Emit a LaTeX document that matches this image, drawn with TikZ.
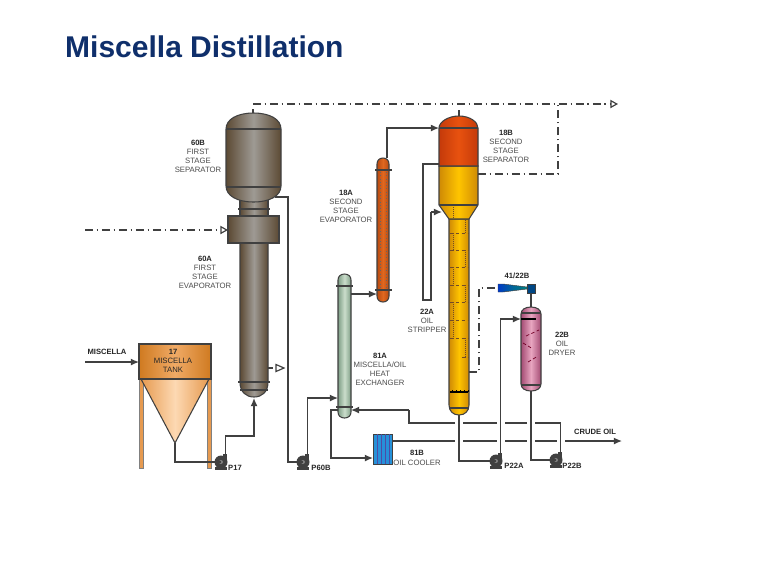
\documentclass[tikz,border=0pt]{standalone}
\usepackage{fontspec}
\setmainfont{Liberation Sans}
\usetikzlibrary{arrows.meta}
\definecolor{titleblue}{HTML}{0F2F6B}
\definecolor{pipegray}{HTML}{404040}
\newcommand{\capsule}[6]{% style, left, right, top, bottom, dome
\draw[#1] (#2,#4+#6) .. controls (#2,{#4+0.4*#6}) and ({#2+0.2*(#3-#2)},#4) .. ({(#2+#3)/2},#4)
  .. controls ({#3-0.2*(#3-#2)},#4) and (#3,{#4+0.4*#6}) .. (#3,#4+#6)
  -- (#3,#5-#6) .. controls (#3,{#5-0.4*#6}) and ({#3-0.2*(#3-#2)},#5) .. ({(#2+#3)/2},#5)
  .. controls ({#2+0.2*(#3-#2)},#5) and (#2,{#5-0.4*#6}) .. (#2,#5-#6) -- cycle;
}
\newcommand{\pump}[2]{% name, centre
\coordinate (#1) at (#2);
\coordinate (#1out) at ([shift={(4.5,-8)}]#1);
\fill[pipegray] ([shift={(-6,5)}]#1) rectangle ([shift={(6,8)}]#1);
\fill[pipegray] ([shift={(2,-8)}]#1) rectangle ([shift={(6,0)}]#1);
\fill[pipegray] (#1) circle (6.5);
\fill[gray] (#1) circle (2);
}
\definecolor{brownedge}{HTML}{5C4A34}
\definecolor{brownmid}{HTML}{9E9A94}
\definecolor{tankedge}{HTML}{CF7A20}
\definecolor{tankmid}{HTML}{F0AA66}
\definecolor{coneedge}{HTML}{E69A50}
\definecolor{conemid}{HTML}{FDD9B3}
\definecolor{rededge}{HTML}{C43A0A}
\definecolor{redmid}{HTML}{E8520F}
\definecolor{thinedge}{HTML}{B84A10}
\definecolor{thinmid}{HTML}{E06820}
\definecolor{goldedge}{HTML}{CF8A05}
\definecolor{goldmid}{HTML}{FFC400}
\definecolor{greenedge}{HTML}{7E9E86}
\definecolor{greenmid}{HTML}{CBDDCB}
\definecolor{pinkedge}{HTML}{A34B73}
\definecolor{pinkmid}{HTML}{E8A5C0}
\tikzset{
  pipe/.style={draw=pipegray,line width=1.1pt},
  flow/.style={pipe,-{Latex[length=7pt,width=6pt]}},
  vent/.style={draw=pipegray,line width=1.1pt,dash pattern=on 7pt off 3pt on 1.5pt off 3pt},
  ventend/.style={vent,-{Triangle[open,length=6.5pt,width=7pt,line width=1pt]}},
  outline/.style={draw=pipegray,line width=0.9pt},
  vessel/.style n args={2}{outline,left color=#1,right color=#1,middle color=#2},
  brownv/.style={vessel={brownedge}{brownmid}},
  tankv/.style={vessel={tankedge}{tankmid}},
  conev/.style={vessel={coneedge}{conemid}},
  redv/.style={vessel={rededge}{redmid}},
  thinv/.style={vessel={thinedge}{thinmid}},
  goldv/.style={vessel={goldedge}{goldmid}},
  greenv/.style={vessel={greenedge}{greenmid}},
  pinkv/.style={vessel={pinkedge}{pinkmid}},
  tray/.style={draw=brown!60!black,line width=0.6pt,densely dashed},
  lbl/.style={font=\fontsize{6.6pt}{7.6pt}\selectfont,text=black!70,align=center,inner sep=0pt},
  tag/.style={font=\fontsize{6.5pt}{7.6pt}\selectfont\bfseries,text=black!85,inner sep=0pt}
}
\begin{document}
\begin{tikzpicture}[x=0.03cm,y=-0.03cm]
\useasboundingbox (0,0) rectangle (768,576);
\fill[white] (0,0) rectangle (768,576);

\node[anchor=base west,inner sep=0pt,font=\fontsize{25.6pt}{28pt}\selectfont\bfseries,text=titleblue] (title) at (65,57) {Miscella Distillation};

% 60A / 60B
\coordinate (sepAtop) at (253,113);
\coordinate (sepAout) at (275,197);
\coordinate (evapAin) at (228,230);
\coordinate (evapAout) at (268,368);
\coordinate (evapAbot) at (254,398);
\draw[brownv] (240,198) rectangle (268,218);
\capsule{brownv}{226}{281}{113}{202}{16}
\draw[outline] (226,129) -- (281,129);
\draw[outline] (226,187) -- (281,187);
\draw[brownv] (240,240) -- (268,240) -- (268,382) .. controls (268,392) and (262,397) .. (254,397) .. controls (246,397) and (240,392) .. (240,382) -- cycle;
\draw[brownv] (228,216) rectangle (279,243);
\draw[pipegray,line width=1.8pt] (238,209) -- (270,209);
\draw[pipegray,line width=1.8pt] (238,382) -- (270,382);
\draw[outline] (240,390) -- (268,390);

% 17
\coordinate (tankin) at (139,362);
\coordinate (tankout) at (175,443);
\foreach \x in {139,207.5} {
  \draw[draw=gray,line width=0.5pt,fill=coneedge] (\x,379) rectangle (\x+4,468);
}
\draw[conev] (141,379) -- (209,379) -- (tankout) -- cycle;
\draw[tankv] (139,344) rectangle (211,379);

% 81A
\coordinate (hxtop) at (351,294);
\coordinate (hxin) at (338,398);
\coordinate (hxbot) at (338,410);
\coordinate (hxret) at (351,410);
\capsule{greenv}{338}{351}{274}{418}{6}
\foreach \y in {286,407} {
  \draw[pipegray,line width=1.5pt] (336,\y) -- (353,\y);
}

% 18A
\coordinate (hxBin) at (377,294);
\coordinate (evapBtop) at (387,158);
\capsule{thinv}{377}{389}{158}{302}{6}
\foreach \y in {170,290} {
  \draw[pipegray,line width=1.5pt] (375,\y) -- (392,\y);
}
\foreach \x in {380,386} {
  \draw[black!60,line width=0.8pt,dotted] (\x,172) -- (\x,288);
}

% 18B / 22A
\coordinate (sepBin) at (439,128);
\coordinate (sepBtop) at (459,116);
\coordinate (sepBret) at (439,164);
\coordinate (sepBout) at (478,174);
\coordinate (strip) at (442,212);
\coordinate (stripout) at (459,415);
\coordinate (stripside) at (469,372);
\draw[goldv] (449,219) -- (469,219) -- (469,405) .. controls (469,411) and (465,415) .. (459,415) .. controls (453,415) and (449,411) .. (449,405) -- cycle;
\draw[goldv] (439,166) -- (478,166) -- (478,205) -- (469,219) -- (449,219) -- (439,205) -- cycle;
\draw[redv] (439,166) -- (439,128) .. controls (439,122) and (448,116) .. (459,116) .. controls (470,116) and (478,122) .. (478,128) -- (478,166) -- cycle;
\draw[outline] (439,128) -- (478,128);
\draw[outline] (439,205) -- (478,205);
\draw[outline] (449,408) -- (469,408);
\foreach \y in {233,250,267,285,302,320,338} {
  \draw[tray] (450,\y) -- (468,\y);
}
\draw[tray] (462,357) -- (468,357);
\foreach \a/\b in {207/217,233/250,267/285,302/338} {
  \draw[brown!60!black,line width=0.7pt,densely dotted] (453,\a) -- (453,\b);
}
\foreach \a/\b in {220/233,250/267,285/302,338/357} {
  \draw[brown!60!black,line width=0.7pt,densely dotted] (465,\a) -- (465,\b);
}
\draw[black,line width=1.2pt] (450,392) -- (468,392);
\foreach \x in {452,456,460,464,468} {
  \draw[black,line width=0.7pt] (\x,392) -- (\x,389.5);
}

% 41/22B
\coordinate (cycin) at (497,288);
\coordinate (cycbox) at (531,293);
\draw[draw=pipegray,line width=0.4pt,left color=blue!55!teal,right color=teal,middle color=teal!80!blue] (498,284) -- (503,284) -- (527,287) -- (527,289) -- (503,292) -- (498,292) -- cycle;
\draw[draw=pipegray,line width=0.4pt,fill=teal!70!blue!80!black] (527,284) rectangle (535,293);

% 22B
\coordinate (dryin) at (521,319);
\coordinate (drytop) at (531,307);
\coordinate (drybot) at (531,391);
\capsule{pinkv}{521}{541}{307}{391}{7}
\draw[outline] (521,313) -- (541,313);
\draw[outline] (521,385) -- (541,385);
\draw[black,line width=1.6pt] (521,319) -- (536,319);
\foreach \a/\b/\c/\d in {526/336/539/330,523/343/533/349,528/362/538/356} {
  \draw[purple!60!black,line width=0.6pt,densely dashed] (\a,\b) -- (\c,\d);
}

% 81B
\coordinate (coolin) at (373,458);
\coordinate (coolout) at (392,441);
\draw[draw=pipegray,line width=0.8pt,fill=blue!40!cyan!70!gray] (373,434) rectangle (392,464);
\foreach \x in {377,381,385,389} {
  \draw[blue!50!black!70,line width=0.4pt] (\x,434) -- (\x,464);
}

% pumps
\pump{pA}{221,462}
\pump{pB}{303,462}
\pump{pC}{496,461}
\pump{pD}{556,460}

% pipes
\coordinate (miscin) at (85,362);
\draw[flow] (miscin) -- (tankin);
\draw[pipe] (tankout) |- (pA);
\draw[flow] (pAout) |- (254,436) -- (evapAbot);
\draw[pipe] (sepAout) -- (288,197) -- (288,462) -- (pB);
\draw[flow] (pBout) -- (307.5,398) -- (hxin);
\draw[flow] (hxtop) -- (hxBin);
\draw[flow] (evapBtop) -- (387,128) -- (sepBin);
\draw[pipe] (sepBret) -- (423,164) -- (423,300) -- (431,300) -- (431,212);
\draw[flow] (431,212) -- (strip);
\draw[flow] (hxbot) -- (331,410) -- (331,458) -- (coolin);
\draw[pipe] (stripout) -- (459,461) -- (pC);
\draw[pipe] (drybot) -- (531,460) -- (pD);
\draw[flow] (pCout) -- (500.5,319) -- (dryin);
\draw[pipe] (cycbox) -- (drytop);

% crude oil lines with breaks
\draw[pipe] (pDout) -- (560.5,423) -- (535,423) (527,423) -- (505,423) (497,423) -- (463,423) (455,423) -- (409,423) -- (409,410);
\draw[flow] (409,410) -- (hxret);
\coordinate (crude) at (622,441);
\draw[pipe] (coolout) -- (455,441) (463,441) -- (497,441) (505,441) -- (527,441) (535,441) -- (557,441);
\draw[flow] (565,441) -- (crude);

% vent lines
\coordinate (ventend) at (618,104);
\draw[pipegray,line width=0.9pt] (sepAtop) -- (253,109);
\draw[pipegray,line width=0.9pt] (sepBtop) -- (459,110);
\draw[ventend] (253,104) -- (ventend);
\draw[vent] (sepBout) -- (558,174) -- (558,104);
\coordinate (feed) at (85,230);
\draw[ventend] (feed) -- (evapAin);
\draw[pipe] (evapAout) -- (273,368);
\draw[draw=pipegray,line width=1pt,fill=white] (276,364.5) -- (284,368) -- (276,371.5) -- cycle;
\draw[vent] (stripside) -- (479,372) -- (479,288) -- (cycin);

% labels
\node[tag] (t60B) at (198,143) {60B};
\node[lbl,anchor=north] (l60B) at (198,149) {FIRST\\STAGE\\SEPARATOR};
\node[tag] (t60A) at (205,259) {60A};
\node[lbl,anchor=north] (l60A) at (205,265) {FIRST\\STAGE\\EVAPORATOR};
\node[tag] (t18A) at (346,193) {18A};
\node[lbl,anchor=north] (l18A) at (346,199) {SECOND\\STAGE\\EVAPORATOR};
\node[tag] (t18B) at (506,133) {18B};
\node[lbl,anchor=north] (l18B) at (506,139) {SECOND\\STAGE\\SEPARATOR};
\node[tag] (t22A) at (427,312) {22A};
\node[lbl,anchor=north] (l22A) at (427,318) {OIL\\STRIPPER};
\node[tag] (t81A) at (380,356) {81A};
\node[lbl,anchor=north] (l81A) at (380,362) {MISCELLA/OIL\\HEAT\\EXCHANGER};
\node[tag] (t22B) at (562,335) {22B};
\node[lbl,anchor=north] (l22B) at (562,341) {OIL\\DRYER};
\node[tag] (t81B) at (417,453) {81B};
\node[lbl] (l81B) at (417,463) {OIL COOLER};
\node[tag] (t17) at (173,352) {17};
\node[lbl,anchor=north,text=black!85] (l17) at (173,358) {MISCELLA\\TANK};
\node[tag] (t41) at (517,276) {41/22B};
\node[tag] (tmisc) at (107,352) {MISCELLA};
\node[tag] (tcrude) at (595,432) {CRUDE OIL};
\node[tag] (tP17) at (235,468) {P17};
\node[tag] (tP60B) at (321,468) {P60B};
\node[tag] (tP22A) at (514,466) {P22A};
\node[tag] (tP22B) at (572,466) {P22B};
\end{tikzpicture}
\end{document}
